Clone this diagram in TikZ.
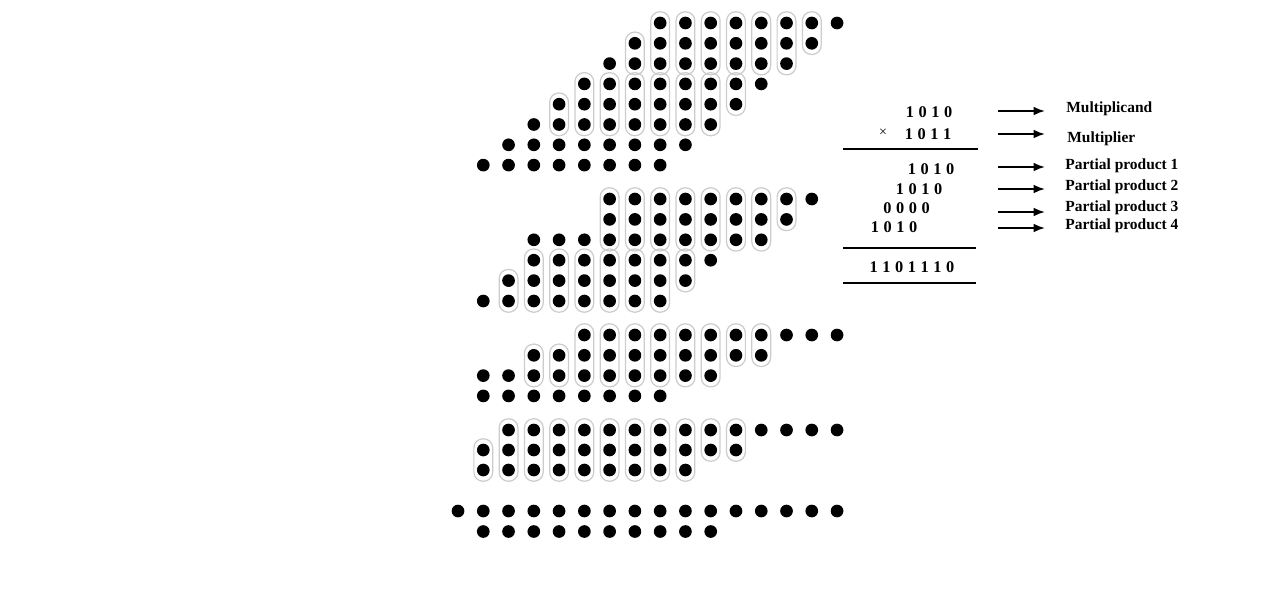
\documentclass[tikz,border=0pt]{standalone}
\usepackage{fontspec}
\setmainfont{Liberation Serif}
\usepackage{tikz}
\usetikzlibrary{positioning}
\usetikzlibrary{fit, arrows.meta}
\tikzset{
    dot/.style={circle, fill=black, inner sep=0pt, minimum size=0.254cm},
    group/.style={draw=gray!40, line width=0.7pt, rectangle, rounded corners=0.18cm, inner xsep=0.054cm, inner ysep=0.09cm},
    num/.style={font=\fontsize{9.3}{10}\selectfont\bfseries, inner sep=0pt},
    sym/.style={font=\fontsize{8}{10}\selectfont, inner sep=0pt},
    desc/.style={font=\fontsize{8.8}{10}\selectfont\bfseries, inner sep=0pt, anchor=west},
    rule/.style={line width=1.4pt},
    arrow/.style={line width=1.1pt,-{Latex[length=6.5pt,width=5pt]}}
}
\newcommand{\dsp}{\kern2.6pt}

\begin{document}
\begin{tikzpicture}[x=0.02cm, y=-0.02cm]
\useasboundingbox (0,0) rectangle (1280,606);

% dots: block/row/y/first column/last column
\foreach \bl/\r/\y/\cs/\ce in {
    1/0/23/8/15, 1/1/43.3/7/14, 1/2/63.6/6/13, 1/3/83.9/5/12,
    1/4/104.2/4/11, 1/5/124.5/3/10, 1/6/144.8/2/9, 1/7/165.1/1/8,
    2/0/199/6/14, 2/1/219.4/6/13, 2/2/239.8/3/12, 2/3/260.2/3/10,
    2/4/280.6/2/9, 2/5/301/1/8,
    3/0/335/5/15, 3/1/355.3/3/12, 3/2/375.6/1/10, 3/3/395.9/1/8,
    4/0/430/2/15, 4/1/450/1/11, 4/2/470/1/9,
    5/0/511/0/15, 5/1/531.5/1/10}
{
    \foreach \c in {\cs,...,\ce}
        \node [dot] (d-\bl-\r-\c) at ({458+25.27*\c},\y) {};
}

% groups: block/column/top row/bottom row
\foreach \bl/\c/\ra/\rb in {
    1/7/1/2, 1/8/0/2, 1/9/0/2, 1/10/0/2, 1/11/0/2, 1/12/0/2, 1/13/0/2, 1/14/0/1,
    1/4/4/5, 1/5/3/5, 1/6/3/5, 1/7/3/5, 1/8/3/5, 1/9/3/5, 1/10/3/5, 1/11/3/4,
    2/6/0/2, 2/7/0/2, 2/8/0/2, 2/9/0/2, 2/10/0/2, 2/11/0/2, 2/12/0/2, 2/13/0/1,
    2/2/4/5, 2/3/3/5, 2/4/3/5, 2/5/3/5, 2/6/3/5, 2/7/3/5, 2/8/3/5, 2/9/3/4,
    3/3/1/2, 3/4/1/2, 3/5/0/2, 3/6/0/2, 3/7/0/2, 3/8/0/2, 3/9/0/2, 3/10/0/2,
    3/11/0/1, 3/12/0/1,
    4/1/1/2, 4/2/0/2, 4/3/0/2, 4/4/0/2, 4/5/0/2, 4/6/0/2, 4/7/0/2, 4/8/0/2,
    4/9/0/2, 4/10/0/1, 4/11/0/1}
{
    \node [group, fit=(d-\bl-\ra-\c)(d-\bl-\rb-\c)] (g-\bl-\ra-\c) {};
}

% multiplication
\node [num] (mcand)  at (929,112)   {1\dsp0\dsp1\dsp0};
\node [sym] (times)  at (883,133)   {×};
\node [num] (mplier) at (928,134)   {1\dsp0\dsp1\dsp1};
\node [num] (pp1)    at (931,169)   {1\dsp0\dsp1\dsp0};
\node [num] (pp2)    at (919,189)   {1\dsp0\dsp1\dsp0};
\node [num] (pp3)    at (906.5,208) {0\dsp0\dsp0\dsp0};
\node [num] (pp4)    at (894,227)   {1\dsp0\dsp1\dsp0};
\node [num] (prod)   at (912,267)   {1\dsp1\dsp0\dsp1\dsp1\dsp1\dsp0};

\coordinate (r1a) at (843,149);  \coordinate (r1b) at (978,149);
\coordinate (r2a) at (843,248);  \coordinate (r2b) at (976,248);
\coordinate (r3a) at (843,283);  \coordinate (r3b) at (976,283);
\draw [rule] (r1a) -- (r1b);
\draw [rule] (r2a) -- (r2b);
\draw [rule] (r3a) -- (r3b);

% labels
\node [desc] (lmcand)  at (1066,109) {Multiplicand};
\node [desc] (lmplier) at (1067,139) {Multiplier};
\node [desc] (lpp1)    at (1065,166) {Partial product 1};
\node [desc] (lpp2)    at (1065,187) {Partial product 2};
\node [desc] (lpp3)    at (1065,208) {Partial product 3};
\node [desc] (lpp4)    at (1065,226) {Partial product 4};

\foreach \i/\y in {1/111, 2/134, 3/167, 4/189, 5/212, 6/228} {
    \coordinate (as\i) at (998,\y);
    \coordinate (ae\i) at (1045,\y);
    \draw [arrow] (as\i) -- (ae\i);
}

\end{tikzpicture}
\end{document}
